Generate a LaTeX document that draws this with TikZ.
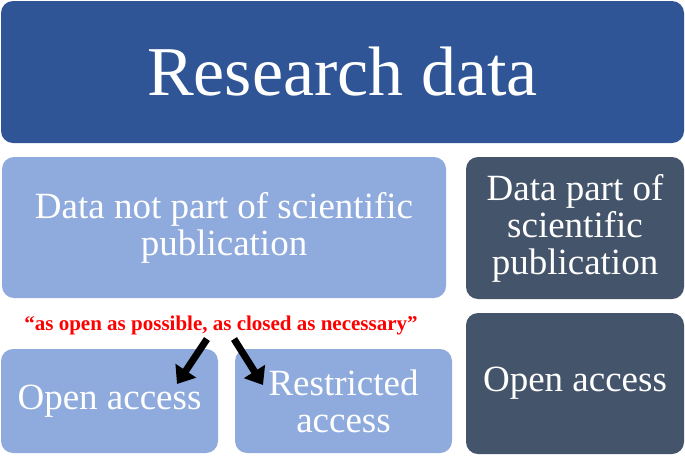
\documentclass[tikz,border=0pt]{standalone}
\usepackage{fontspec}
\setmainfont{Liberation Serif}
\usetikzlibrary{arrows.meta,positioning}
\definecolor{titleblue}{HTML}{2F5597}
\definecolor{lightblue}{HTML}{8FAADC}
\definecolor{slate}{HTML}{44546A}
\definecolor{quotered}{HTML}{FF0000}
\tikzset{
  box/.style={rounded corners=12pt, inner sep=0pt, align=center, text=white,
    font=\fontsize{37}{37}\selectfont},
  bigarrow/.style={line width=7pt, -{Triangle[length=16pt,width=24pt]}},
}
\begin{document}
\begin{tikzpicture}[x=1pt,y=-1pt]
\useasboundingbox (0,0) rectangle (685,456);
%% Title row
\node[box, fill=titleblue, minimum width=683pt, minimum height=142pt,
  font=\fontsize{70}{70}\selectfont] (title) at (342.5,72) {Research data};
%% Middle row
\node[box, fill=lightblue, minimum width=444pt, minimum height=141pt] (notpub)
  at (224,227.5) {Data not part of scientific\\publication};
\node[box, fill=slate, minimum width=218pt, minimum height=142pt] (pub)
  at (575,228) {Data part of\\scientific\\publication};
%% Quote and arrows
\node[font=\fontsize{21}{21}\selectfont\bfseries, text=quotered] (quote)
  at (221,325) {“as open as possible, as closed as necessary”};
%% Bottom row
\node[box, fill=lightblue, minimum width=217pt, minimum height=104pt] (openL)
  at (109.5,401) {Open access};
\node[box, fill=lightblue, minimum width=217pt, minimum height=104pt] (restr)
  at (343.5,401) {Restricted\\access};
\node[box, fill=slate, minimum width=218pt, minimum height=141pt] (openR)
  at (575,383.5) {Open access};
\coordinate (ltail) at (207,339);
\coordinate (lhead) at (177,384);
\coordinate (rtail) at (234,339);
\coordinate (rhead) at (263,385);
\draw[bigarrow] (ltail) -- (lhead);
\draw[bigarrow] (rtail) -- (rhead);
\end{tikzpicture}
\end{document}
